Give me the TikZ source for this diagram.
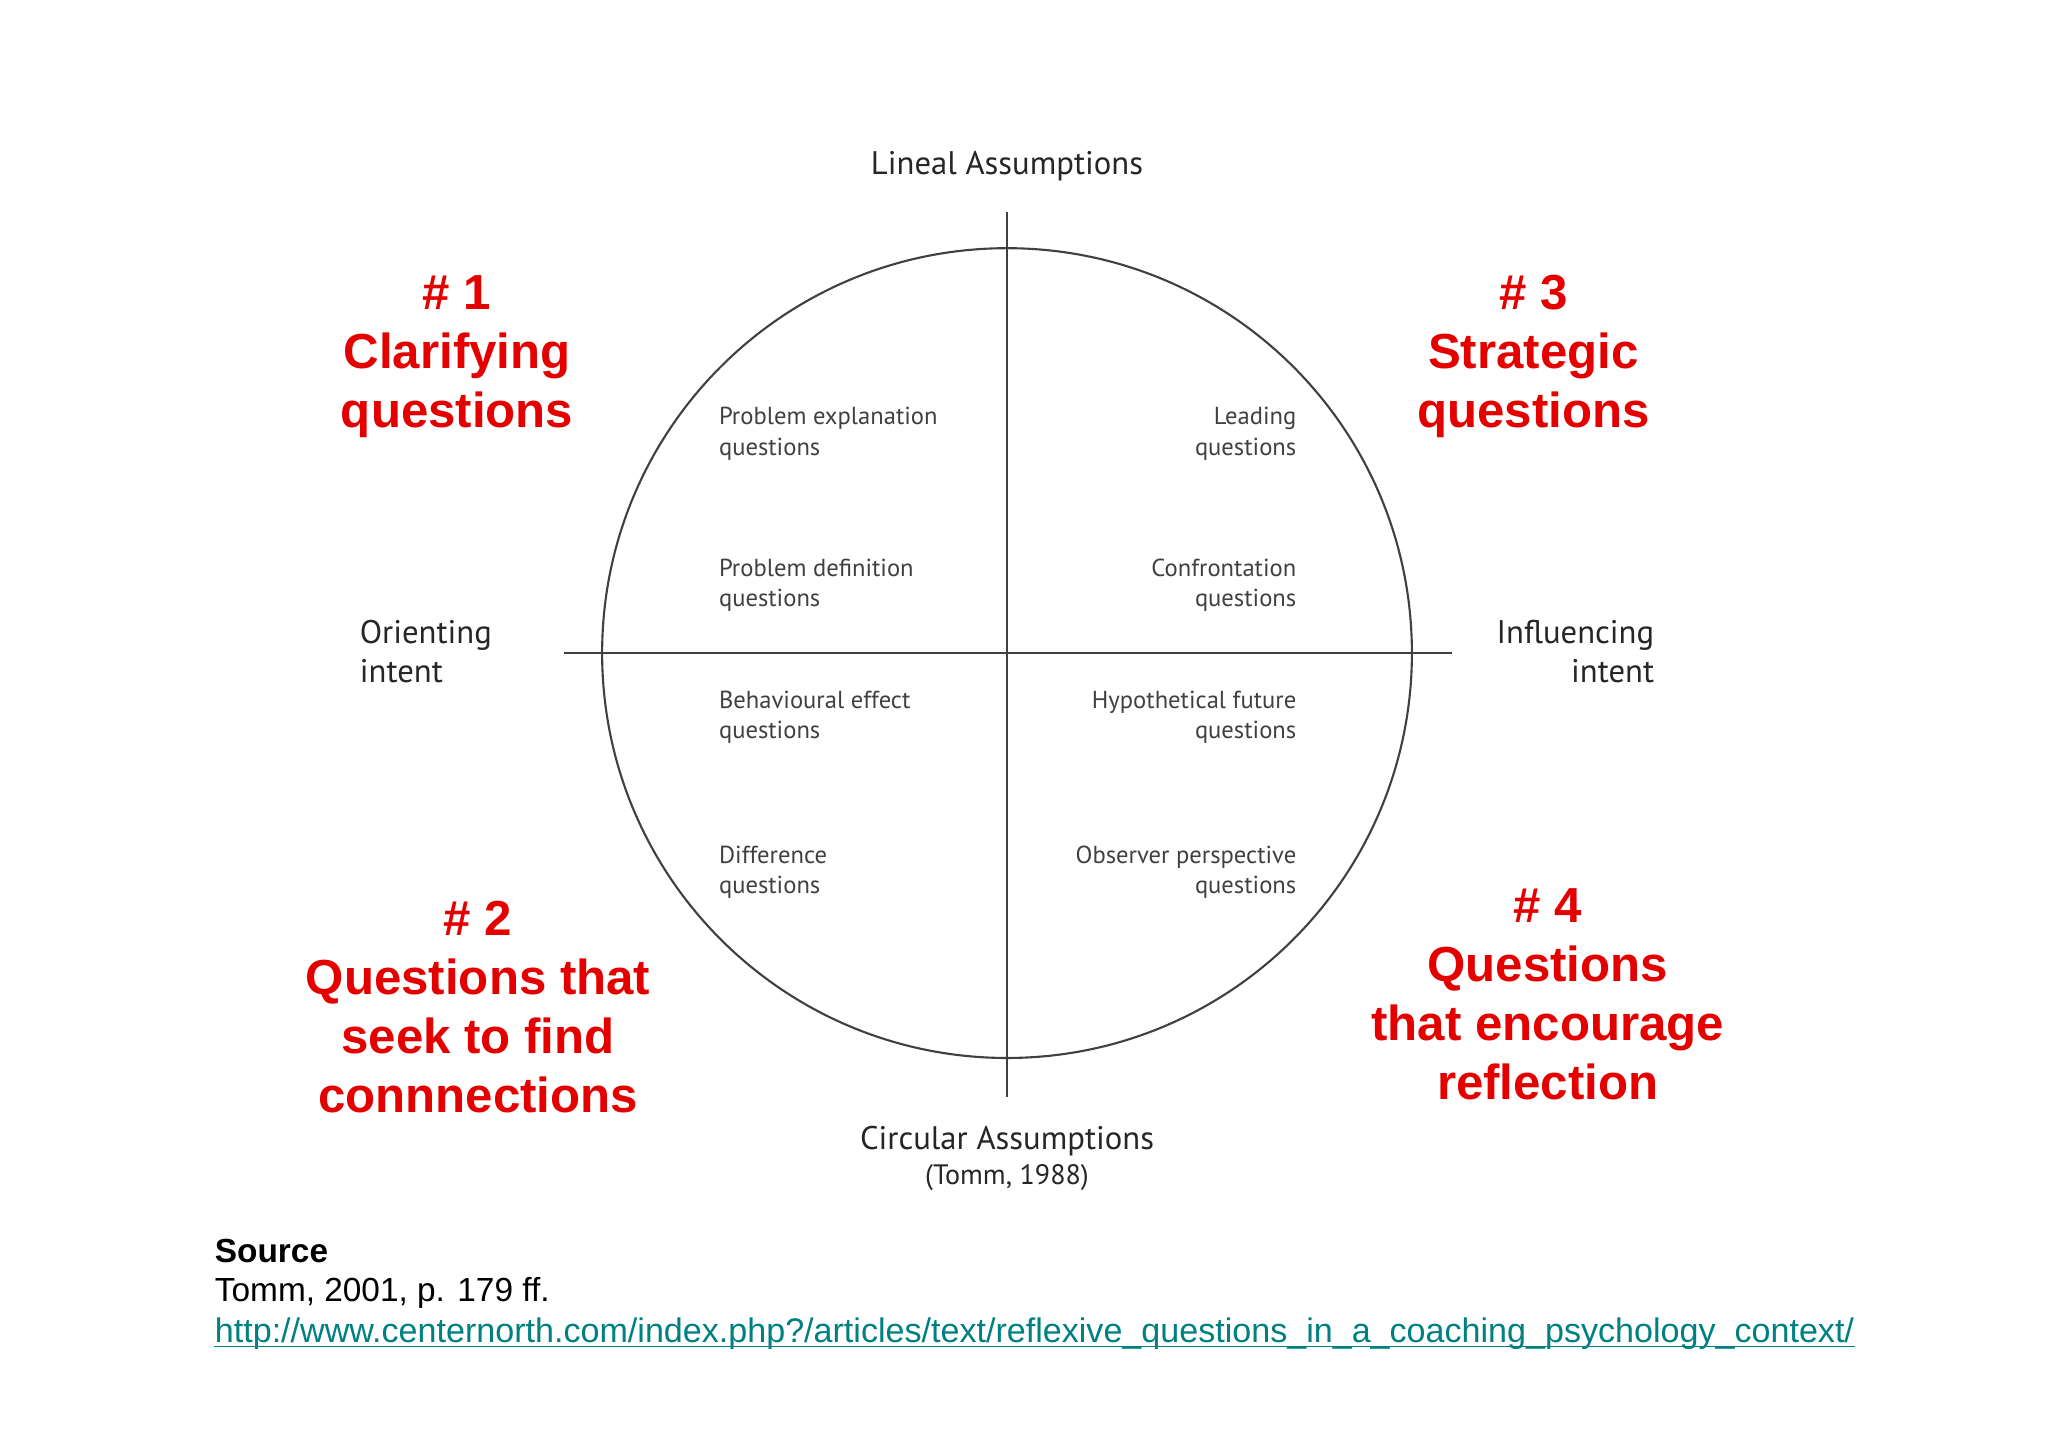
\documentclass[tikz,border=0pt]{standalone}
\usepackage{fontspec}
\setmainfont{Liberation Sans}
\newfontfamily\diag{PT Sans}
\begin{document}
\begin{tikzpicture}[x=0.013061cm,y=-0.013061cm,
  red/.style={text=red!90!black,font=\fontsize{14}{16.8}\selectfont\bfseries,align=center},
  q/.style={font=\diag\fontsize{7}{8.6}\selectfont,text=black!75,inner sep=0},
  ql/.style={q,align=left,anchor=west},
  qr/.style={q,align=right,anchor=east},
  ax/.style={font=\diag\fontsize{9.3}{11}\selectfont,text=black!85,inner sep=0},
  src/.style={font=\fontsize{9.5}{11}\selectfont,anchor=west,inner sep=0}]
\useasboundingbox (0,0) rectangle (1568,1108);
\coordinate (c) at (771,500);
\coordinate (t) at (771,162); \coordinate (b) at (771,840);
\coordinate (l) at (432,500); \coordinate (r) at (1112,500);
\draw[black!75,line width=0.6pt] (c) circle[x=0.013061cm,y=0.013061cm,radius=310];
\draw[black!75,line width=0.8pt] (t) -- (b);
\draw[black!75,line width=0.8pt] (l) -- (r);
\node[ax] (la) at (771,127) {Lineal Assumptions};
\node[ax,anchor=west,align=left] (oi) at (275,499) {Orienting\\intent};
\node[ax,anchor=east,align=right] (ii) at (1267,499) {Influencing\\intent};
\node[ax,align=center] (ca) at (771,887) {Circular Assumptions\\[-1pt]{\fontsize{8}{10}\selectfont(Tomm, 1988)}};
\node[ql] (q1) at (550,332) {Problem explanation\\questions};
\node[ql] (q2) at (550,448) {Problem definition\\questions};
\node[ql] (q3) at (550,549) {Behavioural effect\\questions};
\node[ql] (q4) at (550,668) {Difference\\questions};
\node[qr] (q5) at (993,332) {Leading\\questions};
\node[qr] (q6) at (993,448) {Confrontation\\questions};
\node[qr] (q7) at (993,549) {Hypothetical future\\questions};
\node[qr] (q8) at (993,668) {Observer perspective\\questions};
\node[red] (r1) at (350,273) {\# 1\\Clarifying\\questions};
\node[red] (r3) at (1174,273) {\# 3\\Strategic\\questions};
\node[red] (r2) at (366,771) {\# 2\\Questions that\\seek to find\\connnections};
\node[red] (r4) at (1185,761) {\# 4\\Questions\\that encourage\\reflection};
\node[src,font=\fontsize{9.5}{11}\selectfont\bfseries] (s1) at (164,958) {Source};
\node[src] (s2) at (164,990) {Tomm, 2001, p. 179 ff.};
\node[src,text=teal,font=\fontsize{9.7}{11}\selectfont] (s3) at (164,1021) {http://www.centernorth.com/index.php?/articles/text/reflexive\_questions\_in\_a\_coaching\_psychology\_context/};
\draw[teal,line width=0.5pt] ([yshift=-1.2pt]s3.base west) -- ([yshift=-1.2pt]s3.base east);
\end{tikzpicture}
\end{document}
